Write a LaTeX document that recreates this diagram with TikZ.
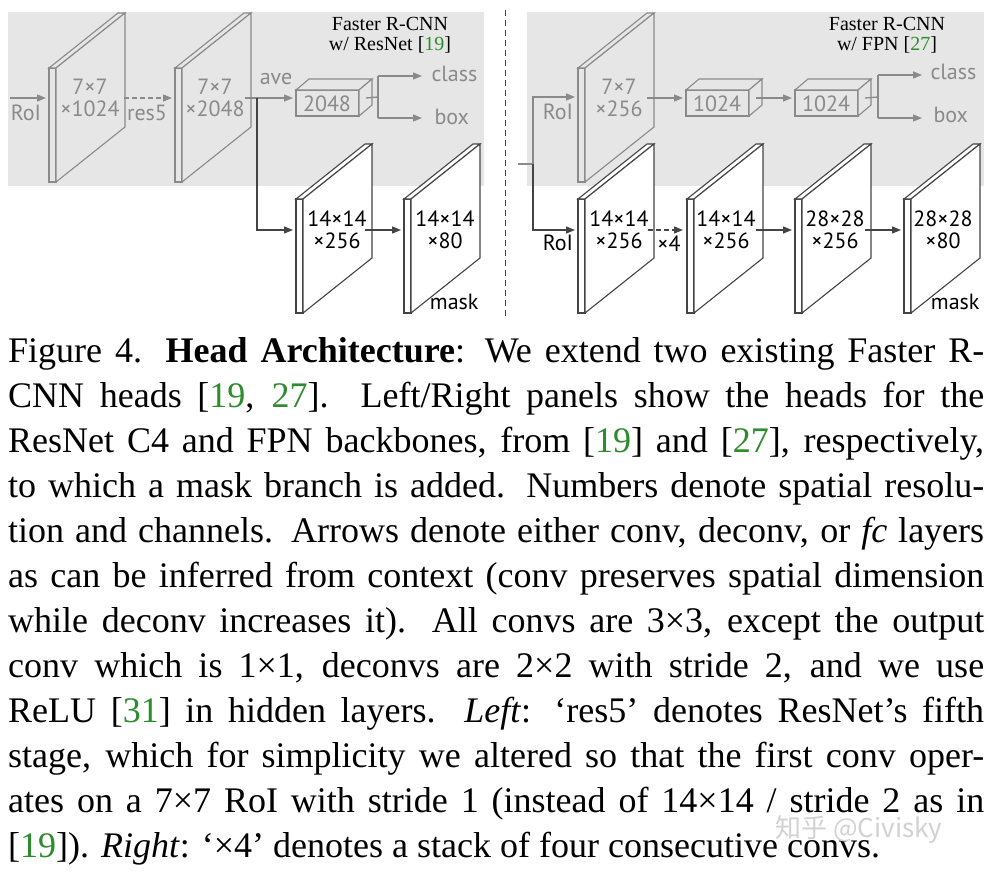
\documentclass[tikz,border=0pt]{standalone}
\usepackage{fontspec}
\setmainfont{Liberation Serif}
\newfontfamily\lab{PT Sans}
\newfontfamily\cjk{Noto Sans CJK SC}
\usetikzlibrary{arrows.meta}
\definecolor{bggray}{HTML}{E6E6E6}
\definecolor{elgray}{HTML}{8A8A8A}
\definecolor{dk}{HTML}{444444}
\definecolor{citeg}{HTML}{2E8B2E}
\newcommand\cg[1]{\textcolor{citeg}{#1}}
\newcommand\myslab[5]{%
  \draw[#5,fill=#4,line width=1.1pt] (#2,#3) rectangle ++(7,114);
  \draw[#5,fill=#4,line width=1.1pt] (#2,#3) -- ++(69,-55) -- ++(7,0) -- ++(-69,55) -- cycle;
  \draw[#5,fill=#4,line width=1.1pt] (#2+7,#3) -- ++(69,-55) -- ++(0,114) -- ++(-69,55) -- cycle;
  \coordinate (#1) at (#2+41,#3+30);
  \coordinate (#1-r) at (#2+76,#3+30);
  \coordinate (#1-l) at (#2-3,#3+30);}
\newcommand\mybox[3]{%
  \draw[elgray,fill=bggray,line width=1.1pt] (#2,#3) rectangle ++(63,26);
  \draw[elgray,fill=bggray,line width=1.1pt] (#2,#3) -- ++(13,-11) -- ++(63,0) -- ++(-13,11) -- cycle;
  \draw[elgray,fill=bggray,line width=1.1pt] (#2+63,#3) -- ++(13,-11) -- ++(0,26) -- ++(-13,11) -- cycle;
  \coordinate (#1) at (#2+31,#3+14);
  \coordinate (#1-r) at (#2+70,#3+8);
  \coordinate (#1-l) at (#2-3,#3+8);}
\tikzset{
  ga/.style={elgray,line width=1.3pt,-{Triangle[length=9pt,width=7pt]}},
  gl/.style={elgray,line width=1.3pt},
  da/.style={dk,line width=1.3pt,-{Triangle[length=9pt,width=7pt]}},
  dl/.style={dk,line width=1.3pt},
  dsh/.style={dash pattern=on 5pt off 3pt},
  gt/.style={font=\lab\fontsize{22}{22}\selectfont,text=elgray,align=center},
  dt/.style={font=\lab\fontsize{22}{22}\selectfont,text=black,align=center},
  tt/.style={font=\fontsize{20}{20}\selectfont,align=center},
  capl/.style={anchor=base west,inner sep=0,font=\fontsize{36}{36}\selectfont}
}
\begin{document}
\begin{tikzpicture}[x=1pt,y=-1pt]
\useasboundingbox (0,0) rectangle (992,880);
\fill[white] (0,0) rectangle (992,880);
\fill[bggray] (8,12) rectangle (484,186);
\fill[bggray] (527,12) rectangle (984,186);
\draw[dk,dash pattern=on 6pt off 4pt,line width=0.8pt] (505,10) -- (505,316);
% ---- left panel
\myslab{a1}{49}{68}{bggray}{elgray}
\myslab{a2}{175}{68}{bggray}{elgray}
\mybox{b1}{296}{90}
\node[gt] at (b1) {2048};
\myslab{m1}{296}{199}{white}{dk}
\myslab{m2}{404}{199}{white}{dk}
\node[gt] at (90,98) {7×7\\×1024};
\node[gt] at (215,98) {7×7\\×2048};
\node[dt] at (337,230) {14×14\\×256};
\node[dt] at (445,230) {14×14\\×80};
\coordinate (in1) at (10,98);
\draw[ga] (in1) -- (a1-l |- in1);
\node[gt] at (26,113) {RoI};
\draw[ga,dsh] (124,98) -- (a2-l |- in1);
\node[gt] at (147,113) {res5};
\coordinate (j1) at (257,98);
\draw[gl] (245,98) -- (j1);
\draw[ga] (j1) -- (b1-l);
\node[gt] at (276,79) {ave};
\draw[da] (j1) -- (257,230) -- (m1-l |- 0,230);
\draw[da] (365,230) -- (m2-l |- 0,230);
\node[dt,anchor=east] at (482,302) {mask};
\coordinate (s1) at (378,97);
\draw[gl] (b1-r) -- (s1);
\draw[ga] (378,76) -- (422,76);
\draw[ga] (378,118) -- (422,118);
\draw[gl] (378,76) -- (378,118);
\node[gt,anchor=west] (c1) at (428,74) {class};
\node[gt,anchor=west] (x1) at (431,117) {box};
\node[tt] at (390,35) {Faster R-CNN\\w/ ResNet [\cg{19}]};
% ---- right panel
\myslab{r1}{578}{68}{bggray}{elgray}
\mybox{b2}{686}{90}
\node[gt] at (b2) {1024};
\mybox{b3}{795}{90}
\node[gt] at (b3) {1024};
\myslab{n1}{578}{199}{white}{dk}
\myslab{n2}{687}{199}{white}{dk}
\myslab{n3}{795}{199}{white}{dk}
\myslab{n4}{904}{199}{white}{dk}
\node[gt] at (619,98) {7×7\\×256};
\node[dt] at (619,230) {14×14\\×256};
\node[dt] at (726,230) {14×14\\×256};
\node[dt] at (835,230) {28×28\\×256};
\node[dt] at (943,230) {28×28\\×80};
\coordinate (in2) at (518,164);
\coordinate (j2) at (533,164);
\draw[gl] (in2) -- (j2);
\draw[ga] (j2) -- (533,97) -- (575,97);
\draw[da] (j2) -- (533,230) -- (575,230);
\node[gt] at (558,112) {RoI};
\node[dt] at (558,243) {RoI};
\draw[ga] (647,98) -- (b2-l);
\draw[ga] (b2-r) -- (b3-l);
\draw[gl] (b3-r) -- (878,97);
\draw[gl] (878,75) -- (878,118);
\draw[ga] (878,75) -- (922,75);
\draw[ga] (878,118) -- (922,118);
\node[gt,anchor=west] at (927,72) {class};
\node[gt,anchor=west] at (930,115) {box};
\node[tt] at (887,35) {Faster R-CNN\\w/ FPN [\cg{27}]};
\draw[da,dsh] (648,230) -- (683,230);
\node[dt] at (669,244) {×4};
\draw[da] (756,230) -- (792,230);
\draw[da] (865,230) -- (901,230);
\node[dt,anchor=east] at (983,302) {mask};
% ---- caption
\def\W{976pt}
\node[capl] at (8,362) {\makebox[\W][s]{Figure 4. \textbf{Head Architecture}: We extend two existing Faster R-}};
\node[capl] at (8,407) {\makebox[\W][s]{CNN heads [\cg{19}, \cg{27}]. Left/Right panels show the heads for the}};
\node[capl] at (8,452) {\makebox[\W][s]{ResNet C4 and FPN backbones, from [\cg{19}] and [\cg{27}], respectively,}};
\node[capl] at (8,497) {\makebox[\W][s]{to which a mask branch is added. Numbers denote spatial resolu-}};
\node[capl] at (8,542) {\makebox[\W][s]{tion and channels. Arrows denote either conv, deconv, or \textit{fc} layers}};
\node[capl] at (8,587) {\makebox[\W][s]{as can be inferred from context (conv preserves spatial dimension}};
\node[capl] at (8,632) {\makebox[\W][s]{while deconv increases it). All convs are 3×3, except the output}};
\node[capl] at (8,677) {\makebox[\W][s]{conv which is 1×1, deconvs are 2×2 with stride 2, and we use}};
\node[capl] at (8,722) {\makebox[\W][s]{ReLU [\cg{31}] in hidden layers. \textit{Left}: ‘res5’ denotes ResNet’s fifth}};
\node[capl] at (8,767) {\makebox[\W][s]{stage, which for simplicity we altered so that the first conv oper-}};
\node[capl] at (8,812) {\makebox[\W][s]{ates on a 7×7 RoI with stride 1 (instead of 14×14 / stride 2 as in}};
\node[capl] at (8,857) {[\cg{19}]). \textit{Right}: ‘×4’ denotes a stack of four consecutive convs.};
\node[font=\cjk\fontsize{26}{26}\selectfont,text=gray!35,anchor=west] at (772,830) {知乎 @Civisky};
\end{tikzpicture}
\end{document}
